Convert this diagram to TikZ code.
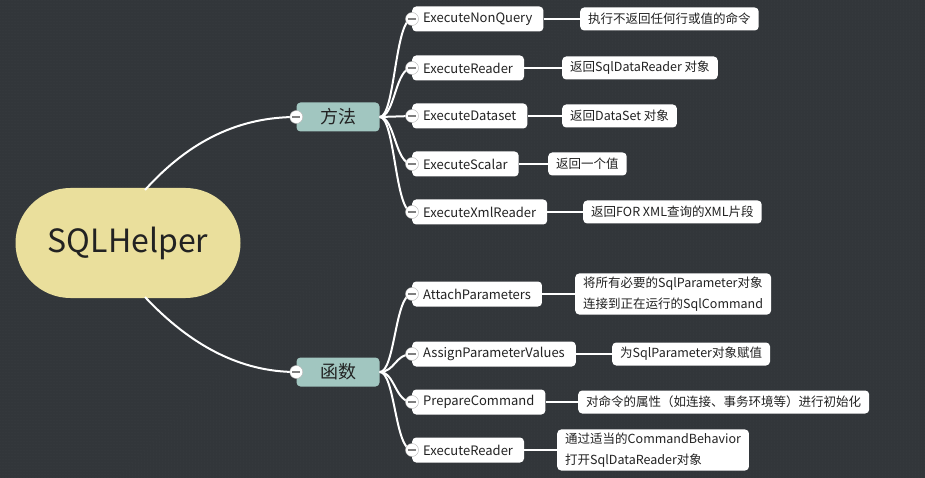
\documentclass[tikz,border=0pt]{standalone}
\usepackage{fontspec}
\setmainfont{Noto Sans CJK SC}
\usetikzlibrary{patterns}
\definecolor{bg}{HTML}{32363A}
\definecolor{dotc}{HTML}{3E4246}
\definecolor{rootc}{HTML}{EADF9C}
\definecolor{midc}{HTML}{A1C6C0}
\definecolor{txt}{HTML}{222222}
\begin{document}
\begin{tikzpicture}[x=1pt,y=-1pt,
 child/.style={fill=white,rounded corners=4pt,anchor=west,minimum height=25pt,inner xsep=11pt,font=\fontsize{13}{15}\selectfont,text=txt},
 lab/.style={fill=white,rounded corners=4pt,anchor=west,minimum height=23pt,inner xsep=8pt,font=\fontsize{12.5}{21}\selectfont,text=txt,align=left},
 mid/.style={fill=midc,rounded corners=4pt,minimum width=83pt,minimum height=29pt,font=\fontsize{18}{20}\selectfont,text=txt},
 con/.style={white,line width=2pt},
 minus/.style={circle,fill=white,draw=gray!60,inner sep=0pt,minimum size=13pt,path picture={\draw[gray,line width=1.2pt] ([xshift=-4pt]path picture bounding box.center)--([xshift=4pt]path picture bounding box.center);}}]
\useasboundingbox (0,0) rectangle (925,478);
\fill[bg] (0,0) rectangle (925,478);
\fill[pattern=dots,pattern color=dotc] (0,0) rectangle (925,478);
\node[fill=rootc,rounded corners=55pt,minimum width=225pt,minimum height=110pt,font=\fontsize{32}{36}\selectfont,text=txt] (root) at (128,243) {SQLHelper};
\node[mid] (m1) at (338,117) {方法};
\node[mid] (m2) at (338,372) {函数};
\coordinate (r1) at (145,190);
\coordinate (r2) at (145,297);
\draw[con] (r1) .. controls (190,140) and (240,117) .. (m1.west);
\draw[con] (r2) .. controls (190,345) and (240,372) .. (m2.west);
\node[minus] (mm1) at (m1.west) {};
\node[minus] (mm2) at (m2.west) {};
\foreach \n/\y/\t/\lx/\l in {a/19/ExecuteNonQuery/580/执行不返回任何行或值的命令,
 b/68/ExecuteReader/562/返回SqlDataReader 对象,
 c/116/ExecuteDataset/562/返回DataSet 对象,
 d/164/ExecuteScalar/548/返回一个值,
 e/212/ExecuteXmlReader/583/返回FOR XML查询的XML片段}{
 \node[child] (\n) at (412,\y) {\t};
 \node[lab] (\n l) at (\lx,\y) {\l};
 \draw[con] (\n.east) -- (\n l.west);
 \draw[con] (m1.east) .. controls (395,117) and (395,\y) .. (\n.west);
 \node[minus] at (\n.west) {};
}
\foreach \n/\y/\t/\lx/\l in {f/294/AttachParameters/575/{将所有必要的SqlParameter对象\\连接到正在运行的SqlCommand},
 g/354/AssignParameterValues/612/为SqlParameter对象赋值,
 h/402/PrepareCommand/578/对命令的属性（如连接、事务环境等）进行初始化,
 i/450/ExecuteReader/557/{通过适当的CommandBehavior\\打开SqlDataReader对象}}{
 \node[child] (\n) at (412,\y) {\t};
 \node[lab] (\n l) at (\lx,\y) {\l};
 \draw[con] (\n.east) -- (\n l.west);
 \draw[con] (m2.east) .. controls (395,372) and (395,\y) .. (\n.west);
 \node[minus] at (\n.west) {};
}
\end{tikzpicture}
\end{document}
